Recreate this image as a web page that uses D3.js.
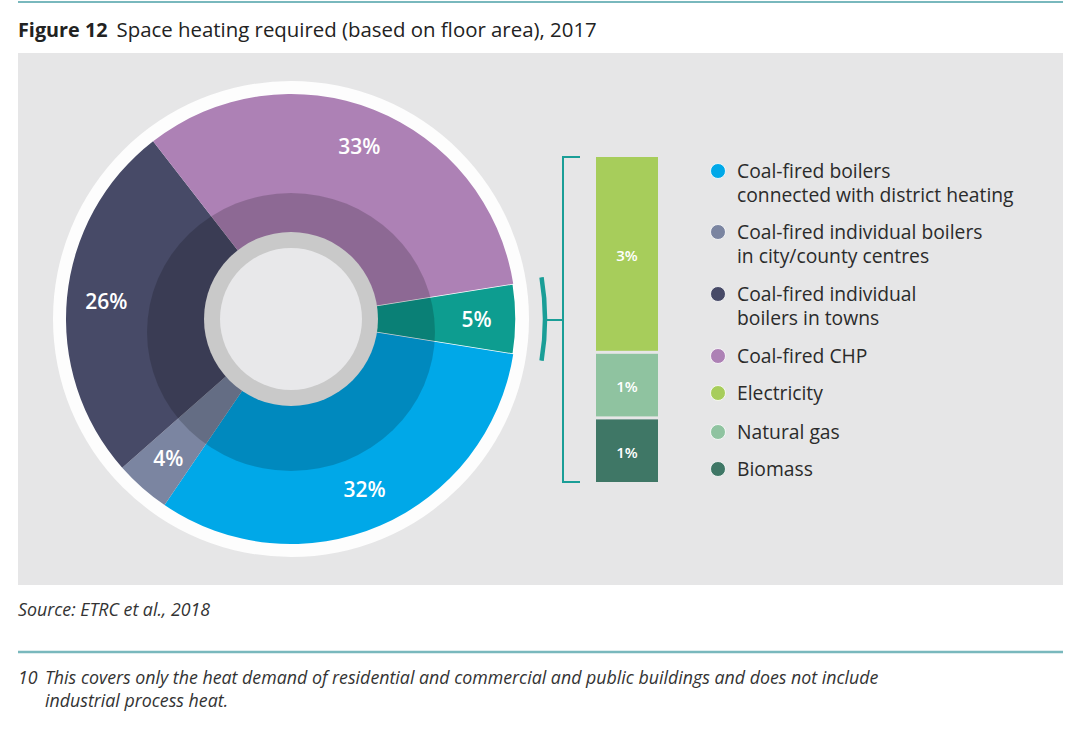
<!DOCTYPE html>
<html>
<head>
<meta charset="utf-8">
<script src="https://cdn.jsdelivr.net/npm/d3@7"></script>
<style>
  body { margin: 0; background: #fff; }
  svg { display: block; font-family: "Open Sans", sans-serif; }
</style>
</head>
<body>
<svg id="chart" width="1080" height="733"></svg>
<script>
// donut slices, clockwise starting at the small "other" slice
var donutKeys = ["other", "district", "city", "towns", "chp"];
var donutValues = [5, 32, 4, 26, 33];
var donutLabels = ["5%", "32%", "4%", "26%", "33%"];

// breakdown of the 5% slice
var barKeys = ["Electricity", "Natural gas", "Biomass"];
var barValues = [3, 1, 1];
var barLabels = ["3%", "1%", "1%"];

var legendItems = [
  ["Coal-fired boilers", "connected with district heating"],
  ["Coal-fired individual boilers", "in city/county centres"],
  ["Coal-fired individual", "boilers in towns"],
  ["Coal-fired CHP"],
  ["Electricity"],
  ["Natural gas"],
  ["Biomass"]
];

var colors = {
  other: "#0d9d90",
  district: "#00a8e8",
  city: "#7b85a1",
  towns: "#474a67",
  chp: "#ad81b5",
  "Electricity": "#a7cd5b",
  "Natural gas": "#8fc3a0",
  "Biomass": "#3f7766"
};
var legendColors = ["#00a8e8", "#7b85a1", "#474a67", "#ad81b5", "#a7cd5b", "#8fc3a0", "#3f7766"];

var svg = d3.select("#chart");
var teal = "#1a9e97";

// header
svg.append("line")
  .attr("x1", 18).attr("x2", 1063).attr("y1", 2).attr("y2", 2)
  .style("stroke", "#79b8bd").attr("stroke-width", 2);

var title = svg.append("text").attr("x", 18).attr("y", 37)
  .style("font-size", "20.4px").style("fill", "#222");
title.append("tspan").style("font-weight", 700).style("font-size", "19.8px").text("Figure 12");
title.append("tspan").attr("dx", 9).text("Space heating required (based on floor area), 2017");

// grey panel
svg.append("rect")
  .attr("x", 18).attr("y", 53).attr("width", 1045).attr("height", 532)
  .style("fill", "#e6e6e7");

// donut
var cx = 291, cy = 319;
var rOuter = 225, rInner = 87;

var pie = d3.pie().sort(null).value((d) => d.value)
  .startAngle(Math.PI / 2 - Math.PI * donutValues[0] / 100)
  .endAngle(Math.PI / 2 - Math.PI * donutValues[0] / 100 + 2 * Math.PI);

var slices = pie(donutKeys.map((k, i) => ({ key: k, value: donutValues[i], label: donutLabels[i] })));

var arc = d3.arc().innerRadius(rInner - 5).outerRadius(rOuter);
var labelArc = d3.arc().innerRadius(146).outerRadius(rOuter);

var donut = svg.append("g").attr("transform", "translate(" + cx + "," + cy + ")");

donut.append("circle").attr("r", 238).style("fill", "#fdfdfd");

donut.selectAll(".slice")
  .data(slices)
  .enter()
  .append("path")
  .attr("class", "slice")
  .attr("d", arc)
  .style("fill", (d) => colors[d.data.key])
  .style("stroke", (d) => d.data.key === "other" ? "#fff" : "none")
  .style("stroke-width", 1.5);

// darker inner band
donut.append("ellipse")
  .attr("cy", 13).attr("rx", 144).attr("ry", 139)
  .style("fill", "#000").style("opacity", 0.18);

donut.append("circle").attr("r", rInner).style("fill", "#c9c9c9");
donut.append("circle").attr("r", 71).style("fill", "#e8e8ea");

donut.selectAll(".pct")
  .data(slices)
  .enter()
  .append("text")
  .attr("class", "pct")
  .attr("transform", (d) => "translate(" + labelArc.centroid(d) + ")")
  .attr("text-anchor", "middle")
  .attr("dy", "0.36em")
  .style("fill", "#fff")
  .style("font-size", "21px")
  .style("font-weight", 600)
  .text((d) => d.data.label);

// bracket
svg.append("path")
  .attr("d", d3.arc()({ innerRadius: 254, outerRadius: 254, startAngle: Math.PI / 2 - 0.165, endAngle: Math.PI / 2 + 0.165 }))
  .attr("transform", "translate(" + cx + "," + cy + ")")
  .style("fill", "none").style("stroke", teal)
  .attr("stroke-width", 4.5).attr("stroke-linecap", "round");

svg.append("path")
  .attr("d", "M545,320H563M580,157H563V482H580")
  .style("fill", "none").style("stroke", teal).attr("stroke-width", 2);

// stacked bar
var barTotal = d3.sum(barValues);
var y = d3.scaleLinear().domain([0, barTotal]).range([157, 485]);
var gap = 3;
var barData = [];
var acc = 0;
barKeys.forEach(function (k, i) {
  barData.push({ key: k, y0: acc, y1: acc + barValues[i], label: barLabels[i] });
  acc += barValues[i];
});

var bars = svg.append("g");
bars.selectAll("rect")
  .data(barData)
  .enter()
  .append("rect")
  .attr("x", 596)
  .attr("width", 62)
  .attr("y", (d) => y(d.y0))
  .attr("height", (d) => y(d.y1) - y(d.y0) - gap)
  .style("fill", (d) => colors[d.key]);

bars.selectAll("text")
  .data(barData)
  .enter()
  .append("text")
  .attr("x", 627)
  .attr("y", (d) => (y(d.y0) + y(d.y1) - gap) / 2 + 2)
  .attr("dy", "0.35em")
  .attr("text-anchor", "middle")
  .style("fill", "#fff")
  .style("font-size", "15px")
  .style("font-weight", 600)
  .text((d) => d.label);

// legend
var legendY = [171, 232, 294, 356, 393, 432, 469];
var legend = svg.append("g");
legendItems.forEach(function (lines, i) {
  var g = legend.append("g").attr("transform", "translate(718," + legendY[i] + ")");
  g.append("circle").attr("r", 7.5)
    .style("fill", legendColors[i]).style("stroke", "#fff").style("stroke-width", 0.8);
  var t = g.append("text").attr("x", 19).attr("y", 0)
    .style("font-size", "19.3px").style("fill", "#2b2b2b");
  lines.forEach(function (l, j) {
    t.append("tspan").attr("x", 19).attr("dy", j === 0 ? "0.35em" : "1.27em").text(l);
  });
});

// footer
var note = { size: "17.8px", color: "#333" };
svg.append("text").attr("x", 18).attr("y", 616)
  .style("font-size", note.size).style("font-style", "italic").style("fill", note.color)
  .text("Source: ETRC et al., 2018");

svg.append("line")
  .attr("x1", 18).attr("x2", 1063).attr("y1", 652).attr("y2", 652)
  .style("stroke", "#79b8bd").attr("stroke-width", 2.5);

svg.append("text").attr("x", 18).attr("y", 684)
  .style("font-size", note.size).style("font-style", "italic").style("fill", note.color)
  .text("10");
svg.append("text").attr("x", 45).attr("y", 684)
  .style("font-size", note.size).style("font-style", "italic").style("fill", note.color)
  .text("This covers only the heat demand of residential and commercial and public buildings and does not include");
svg.append("text").attr("x", 45).attr("y", 707)
  .style("font-size", note.size).style("font-style", "italic").style("fill", note.color)
  .text("industrial process heat.");
</script>
</body>
</html>
